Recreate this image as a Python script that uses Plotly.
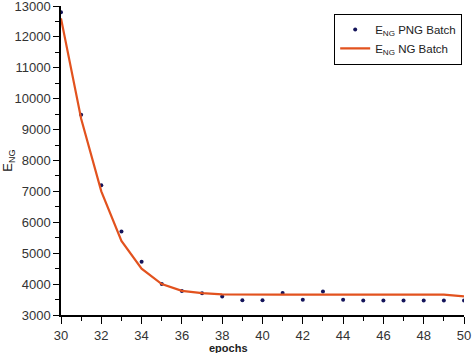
import plotly.graph_objects as go

epochs = list(range(30, 51))
png_batch = [12800, 9480, 7200, 5700, 4720, 4000, 3780, 3700, 3600, 3480, 3480,
             3710, 3490, 3760, 3490, 3470, 3470, 3470, 3470, 3470, 3470]
ng_batch = [12600, 9350, 7000, 5400, 4500, 4000, 3780, 3710, 3670, 3660, 3660,
            3660, 3660, 3660, 3660, 3660, 3660, 3660, 3660, 3660, 3600]

fig = go.Figure()
fig.add_trace(go.Scatter(
    x=epochs, y=png_batch, mode="markers", name="E<sub>NG</sub> PNG Batch",
    marker=dict(color="#14145a", size=4),
))
fig.add_trace(go.Scatter(
    x=epochs, y=ng_batch, mode="lines", name="E<sub>NG</sub> NG Batch",
    line=dict(color="#e2521e", width=2.2),
))

fig.update_layout(
    width=474, height=353,
    margin=dict(l=61, r=10, t=6, b=38, autoexpand=False),
    paper_bgcolor="white", plot_bgcolor="white",
    font=dict(family="Liberation Sans, Arial, sans-serif", color="#333333", size=12),
    showlegend=True,
    legend=dict(
        x=0.995, y=0.975, xanchor="right", yanchor="top",
        bordercolor="black", borderwidth=1.2, bgcolor="white",
        font=dict(size=11.5, color="#222222"),
        tracegroupgap=0, itemwidth=30,
    ),
)
fig.add_annotation(
    text="<b>epochs</b>", xref="x", yref="paper", x=38.3, y=-0.108,
    xanchor="center", yanchor="middle", showarrow=False,
    font=dict(size=11, color="#222222"),
)
fig.update_xaxes(
    range=[30, 50], dtick=2, tick0=30,
    showgrid=False, zeroline=False, automargin=False,
    showline=True, linecolor="black", linewidth=1.5,
    ticks="outside", ticklen=7, tickwidth=1.3, tickcolor="black",
    minor=dict(dtick=1, ticks="outside", ticklen=4, tickwidth=1.2, tickcolor="black"),
    tickfont=dict(size=13), ticklabeloverflow="allow", ticklabelstandoff=1,
)
fig.update_yaxes(
    range=[3000, 13000], dtick=1000, tick0=3000,
    showgrid=False, zeroline=False, automargin=False,
    showline=True, linecolor="black", linewidth=1.5,
    ticks="outside", ticklen=6, tickwidth=1.3, tickcolor="black",
    minor=dict(dtick=500, ticks="outside", ticklen=4, tickwidth=1.2, tickcolor="black"),
    tickfont=dict(size=13), tickformat="d", ticklabeloverflow="allow",
    title=dict(text="E<sub>NG</sub>", font=dict(size=13, color="#222222"), standoff=2),
)

fig.write_html("out.html")
